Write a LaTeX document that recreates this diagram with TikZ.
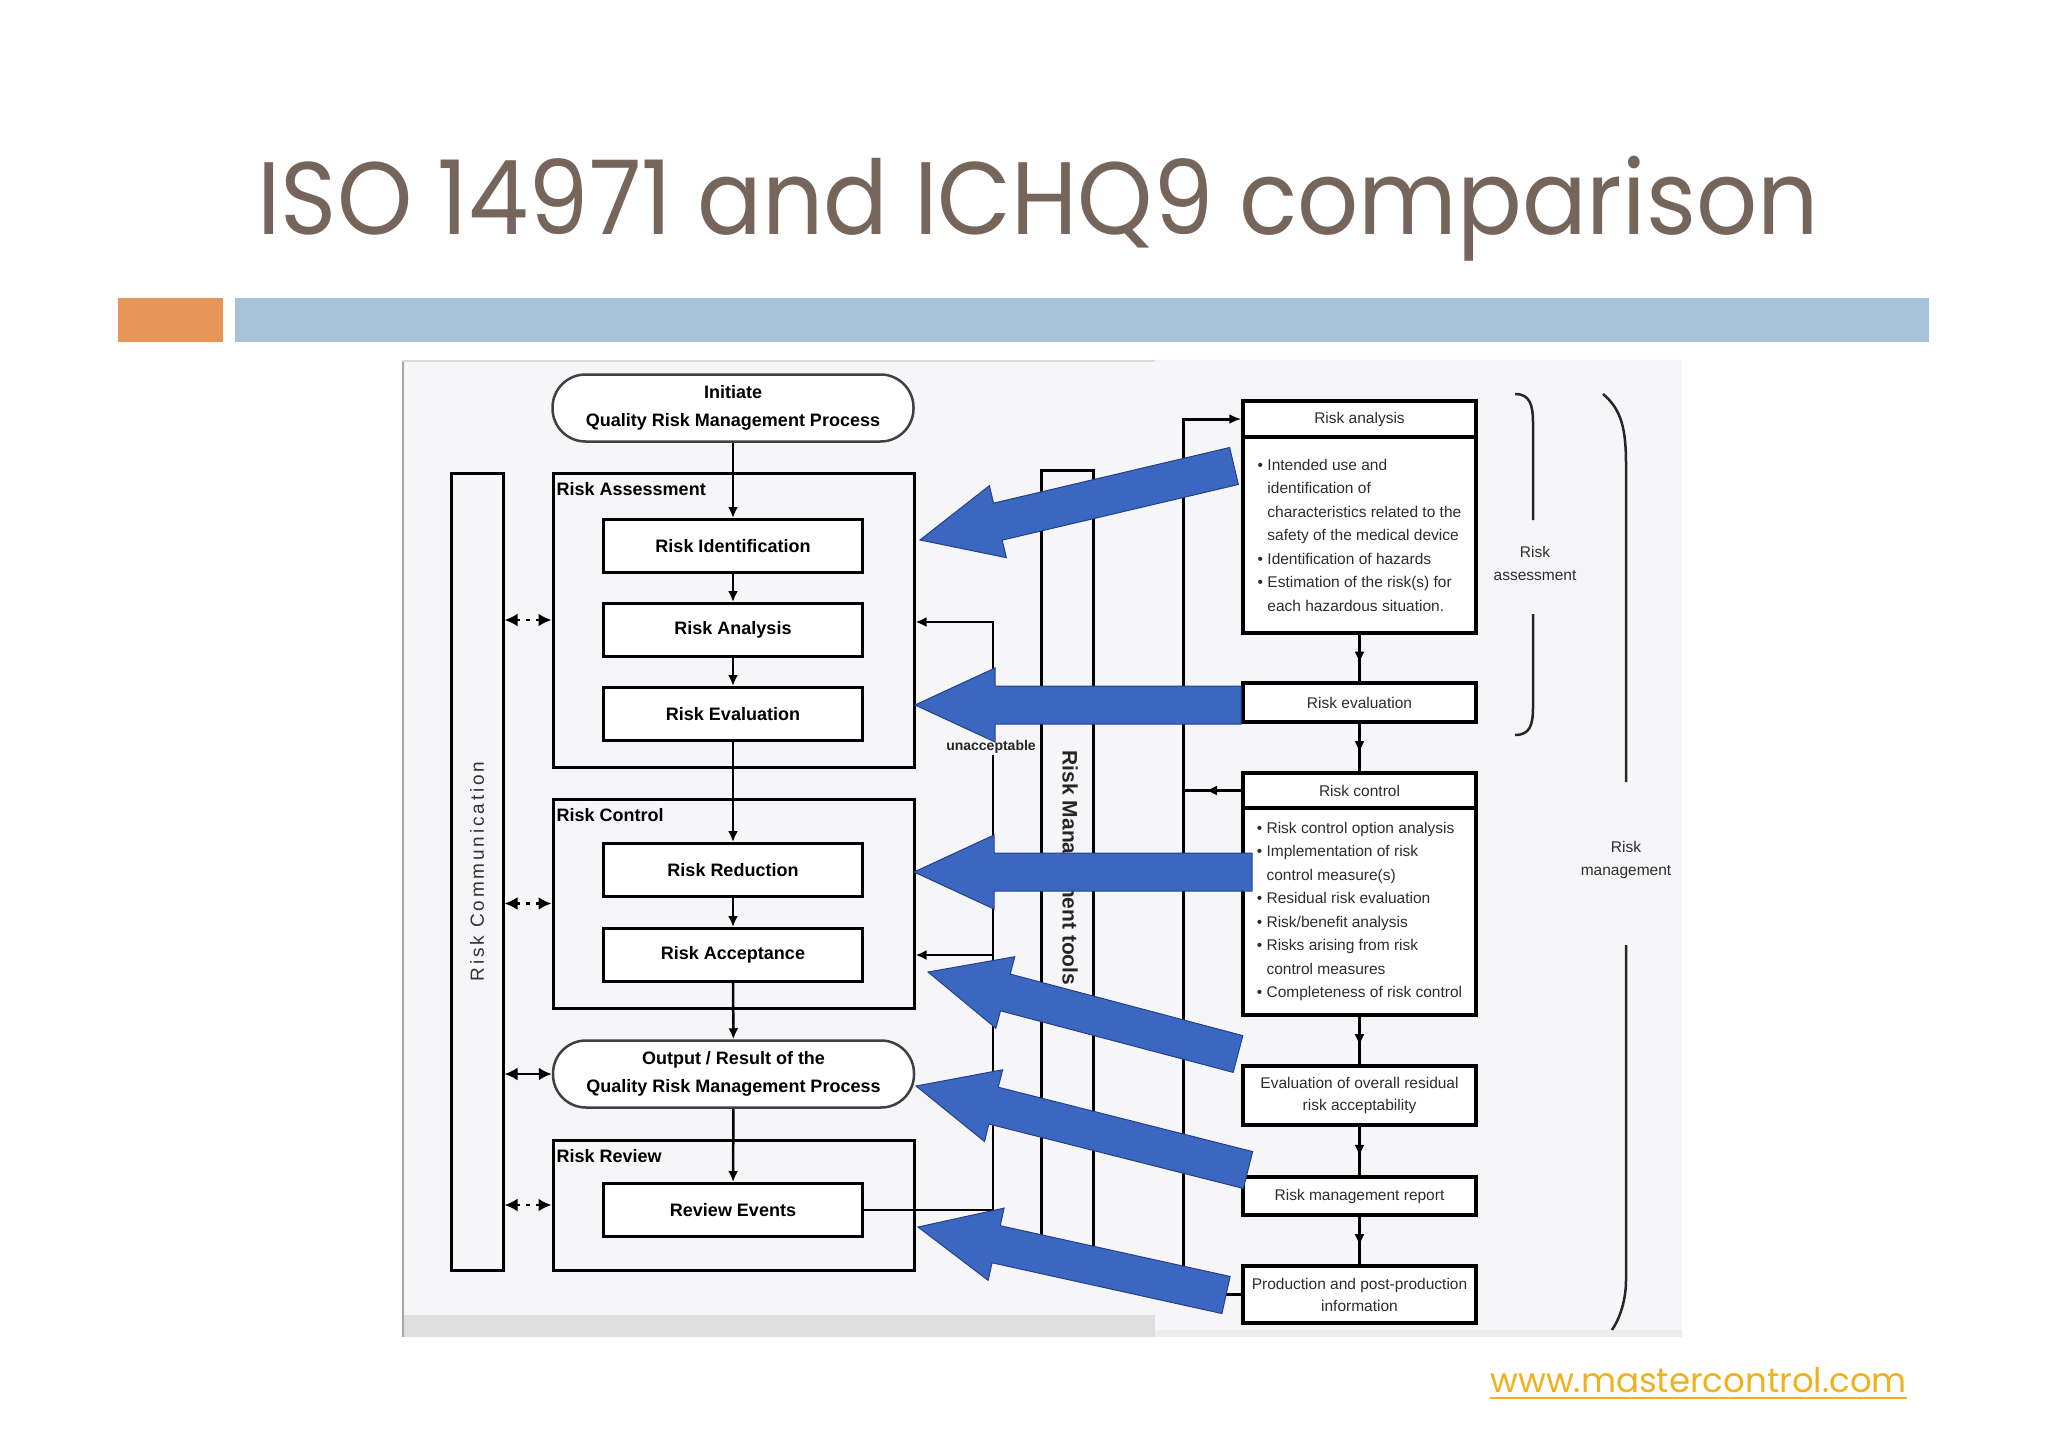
\documentclass[tikz,border=0pt]{standalone}
\usepackage{fontspec}
\setmainfont{Liberation Sans}
\newfontfamily\slidefont{Poppins}
\newfontfamily\spacedfont[LetterSpace=15]{Liberation Sans}
\usepackage{tikz}
\usetikzlibrary{arrows.meta,calc,decorations.markings}
\usepackage{xcolor}

\definecolor{titlegray}{RGB}{117,101,90}
\definecolor{barorange}{RGB}{231,149,88}
\definecolor{barblue}{RGB}{166,195,219}
\definecolor{urlgold}{RGB}{238,178,30}
\definecolor{qrmblue}{RGB}{59,103,192}
\definecolor{qrmedge}{RGB}{36,66,140}
\definecolor{picbg}{RGB}{246,246,248}
\definecolor{isotext}{RGB}{45,45,45}

\tikzset{
  qrmgroup/.style={draw, line width=3pt, minimum width=361pt, inner sep=0pt},
  qrmbox/.style={draw, line width=3pt, fill=white, minimum width=259pt, minimum height=53pt,
    inner sep=0pt, font=\bfseries\fontsize{18}{22}\selectfont},
  qrmoval/.style={draw=black!75, line width=2.5pt, fill=white, rounded corners=33pt,
    minimum width=361pt, minimum height=67pt, align=center,
    font=\bfseries\fontsize{18}{28}\selectfont},
  grouplabel/.style={font=\bfseries\fontsize{18}{22}\selectfont, inner sep=0pt},
  qrmflow/.style={line width=2.5pt, -{Latex[length=11pt,width=10pt]}},
  commlink/.style={line width=2.5pt, dash pattern=on 4pt off 6pt,
    {Latex[length=13pt,width=13pt]}-{Latex[length=13pt,width=13pt]}},
  commsolid/.style={line width=2.5pt, {Latex[length=13pt,width=13pt]}-{Latex[length=13pt,width=13pt]}},
  isobox/.style={draw, line width=3.5pt, fill=white, minimum width=233pt, inner sep=2pt,
    align=center, text=isotext, font=\fontsize{15.5}{22}\selectfont},
  isolist/.style={isobox, align=left, font=\fontsize{15.5}{23.5}\selectfont},
  isoflow/.style={line width=3pt, postaction={decorate}, decoration={markings,
    mark=at position 0.62 with {\arrow{Latex[length=12pt,width=10pt]}}}},
  isoback/.style={isoflow},
  bracket/.style={line width=2.5pt, draw=black!85},
  qrmarrow/.style={fill=qrmblue, draw=qrmedge, line width=1pt}
}

% fat blue arrow from tail #1 to tip #2
\newcommand{\fatarrow}[2]{%
  \coordinate (fa-t) at (#1);
  \coordinate (fa-p) at (#2);
  \coordinate (fa-h) at ($(fa-p)!80pt!(fa-t)$);
  \filldraw[qrmarrow] ($(fa-t)!19pt!90:(fa-p)$) -- ($(fa-h)!19pt!-90:(fa-t)$)
    -- ($(fa-h)!37pt!-90:(fa-t)$) -- (fa-p) -- ($(fa-h)!37pt!90:(fa-t)$)
    -- ($(fa-h)!19pt!90:(fa-t)$) -- ($(fa-t)!19pt!-90:(fa-p)$) -- cycle;}

\newcommand{\bul}{\textbullet\ }
\newcommand{\nobul}{\hphantom{\textbullet\ }}

\begin{document}
\begin{tikzpicture}[x=1pt,y=-1pt]
\fill[white] (0,0) rectangle (2048,1447);
\useasboundingbox (0,0) rectangle (2048,1447);

% slide title and bars
\node[font=\slidefont\fontsize{103}{110}\selectfont, text=titlegray, anchor=base, xscale=0.93] (title) at (1038,235) {ISO 14971 and ICHQ9 comparison};
\fill[barorange] (118,298) rectangle (223,342);
\fill[barblue] (235,298) rectangle (1929,342);

% picture area
\fill[picbg] (402,360) rectangle (1682,1337);
\fill[black!13] (402,1315) rectangle (1155,1337);
\fill[black!7] (1155,1330) rectangle (1682,1337);
\draw[black!35, line width=2pt] (403,360) -- (403,1337);
\draw[black!15, line width=1.5pt] (402,361) -- (1155,361);

% ICH Q9 side
\node[qrmoval] (init) at (733,408) {Initiate\\Quality Risk Management Process};
\node[qrmgroup, minimum height=294pt] (rassess) at (733.5,620) {};
\node[qrmbox] (ident) at (733,546) {Risk Identification};
\node[qrmbox] (analysis) at (733,630) {Risk Analysis};
\node[qrmbox] (evaluation) at (733,714) {Risk Evaluation};
\node[qrmgroup, minimum height=209pt] (rcontrol) at (733.5,903.5) {};
\node[qrmbox] (reduction) at (733,870) {Risk Reduction};
\node[qrmbox] (acceptance) at (733,955) {Risk Acceptance};
\node[qrmoval] (output) at (733.5,1074) {Output / Result of the\\Quality Risk Management Process};
\node[qrmgroup, minimum height=130pt] (rreview) at (733.5,1205) {};
\node[qrmbox] (revents) at (733,1210) {Review Events};

\node[grouplabel, anchor=base west] at ($(rassess.north west)+(5,24)$) {Risk Assessment};
\node[grouplabel, anchor=base west] at ($(rcontrol.north west)+(5,24)$) {Risk Control};
\node[grouplabel, anchor=base west] at ($(rreview.north west)+(5,24)$) {Risk Review};

\draw[qrmflow] (init) -- (ident);
\draw[qrmflow] (ident) -- (analysis);
\draw[qrmflow] (analysis) -- (evaluation);
\draw[qrmflow] (evaluation) -- (reduction);
\draw[qrmflow] (reduction) -- (acceptance);
\draw[qrmflow] (acceptance) -- (output);
\draw[qrmflow] (output) -- (revents);

% communication column
\node[draw, line width=3pt, minimum width=52pt, minimum height=797pt, inner sep=0pt] (rcomm) at (477,871.5) {};
\node[rotate=90, font=\spacedfont\fontsize{19}{20}\selectfont, text=black!80] at (rcomm) {Risk Communication};
\draw[commlink] (rcomm.east |- rassess.west) -- (rassess.west);
\draw[commlink] (rcomm.east |- rcontrol.west) -- (rcontrol.west);
\draw[commsolid] (rcomm.east |- output.west) -- (output.west);
\draw[commlink] (rcomm.east |- rreview.west) -- (rreview.west);

% feedback loop
\coordinate (fbtop) at (993,622);
\coordinate (fbctl) at (993,955);
\draw[qrmflow] (revents.east) -| (fbtop) -- (fbtop -| rassess.east);
\draw[qrmflow] (fbctl) -- (fbctl -| rcontrol.east);
\node[fill=picbg, inner sep=1pt, font=\bfseries\fontsize{14}{16}\selectfont, text=black!85] (unacc) at (991,747) {unacceptable};

% tools column
\node[draw, line width=3pt, minimum width=52pt, minimum height=788pt, inner sep=0pt] (rmtools) at (1067,864) {};
\node[rotate=-90, font=\bfseries\fontsize{21}{22}\selectfont, text=black!85] at (1068,868) {Risk Management tools};

% ISO 14971 side
\node[isobox, minimum height=36pt] (rahead) at (1359.5,419) {Risk analysis};
\node[isolist, minimum height=196pt] (rabody) at (1359.5,535) {\bul Intended use and\\\nobul identification of\\\nobul characteristics related to the\\\nobul safety of the medical device\\\bul Identification of hazards\\\bul Estimation of the risk(s) for\\\nobul each hazardous situation.};
\node[isobox, minimum height=39pt] (reval) at (1359.5,702.5) {Risk evaluation};
\node[isobox, minimum height=35pt] (rchead) at (1359.5,790.5) {Risk control};
\node[isolist, minimum height=207pt] (rcbody) at (1359.5,911.5) {\bul Risk control option analysis\\\bul Implementation of risk\\\nobul control measure(s)\\\bul Residual risk evaluation\\\bul Risk/benefit analysis\\\bul Risks arising from risk\\\nobul control measures\\\bul Completeness of risk control};
\node[isobox, minimum height=59pt] (overall) at (1359.5,1095.5) {Evaluation of overall residual\\risk acceptability};
\node[isobox, minimum height=38pt] (report) at (1359.5,1196) {Risk management report};
\node[isobox, minimum height=57pt] (postprod) at (1359.5,1294.5) {Production and post-production\\information};

\draw[isoflow] (rabody) -- (reval);
\draw[isoflow] (reval) -- (rchead);
\draw[isoflow] (rcbody) -- (overall);
\draw[isoflow] (overall) -- (report);
\draw[isoflow] (report) -- (postprod);
\coordinate (fbiso) at (1183,419);
\draw[line width=3pt, -{Latex[length=12pt,width=10pt]}] (postprod.west) -| (fbiso) -- (rahead.west);
\draw[isoback] (rchead.west) -- (rchead.west -| fbiso);

% brackets
\draw[bracket] (1515,394) .. controls (1530,394) and (1533,405) .. (1533,423) -- (1533,520);
\draw[bracket] (1533,614) -- (1533,707) .. controls (1533,725) and (1530,735) .. (1515,735);
\node[align=center, text=isotext, font=\fontsize{15.5}{23}\selectfont] (assesslbl) at (1535,563) {Risk\\assessment};
\draw[bracket] (1603,394) .. controls (1622,410) and (1626,430) .. (1626,465) -- (1626,782);
\draw[bracket] (1626,945) -- (1626,1280) .. controls (1626,1300) and (1620,1318) .. (1612,1330);
\node[align=center, text=isotext, font=\fontsize{15.5}{23}\selectfont] (mgmtlbl) at (1626,860) {Risk\\management};

% blue overlay arrows
\foreach \ax/\ay/\bx/\by in {1234/466/920/540, 1241/705/915/705, 1252/872/914/872,
    1238/1054/928/972, 1248/1170/916/1086, 1226/1295/918/1227}
  {\fatarrow{\ax,\ay}{\bx,\by}}

% footer link
\node[font=\slidefont\fontsize{34}{40}\selectfont, text=urlgold, anchor=base east, inner sep=0pt] (url) at (1907,1392) {www.mastercontrol.com};
\draw[urlgold, line width=2.5pt] ([yshift=-6pt]url.base west) -- ([yshift=-6pt]url.base east);
\end{tikzpicture}
\end{document}
